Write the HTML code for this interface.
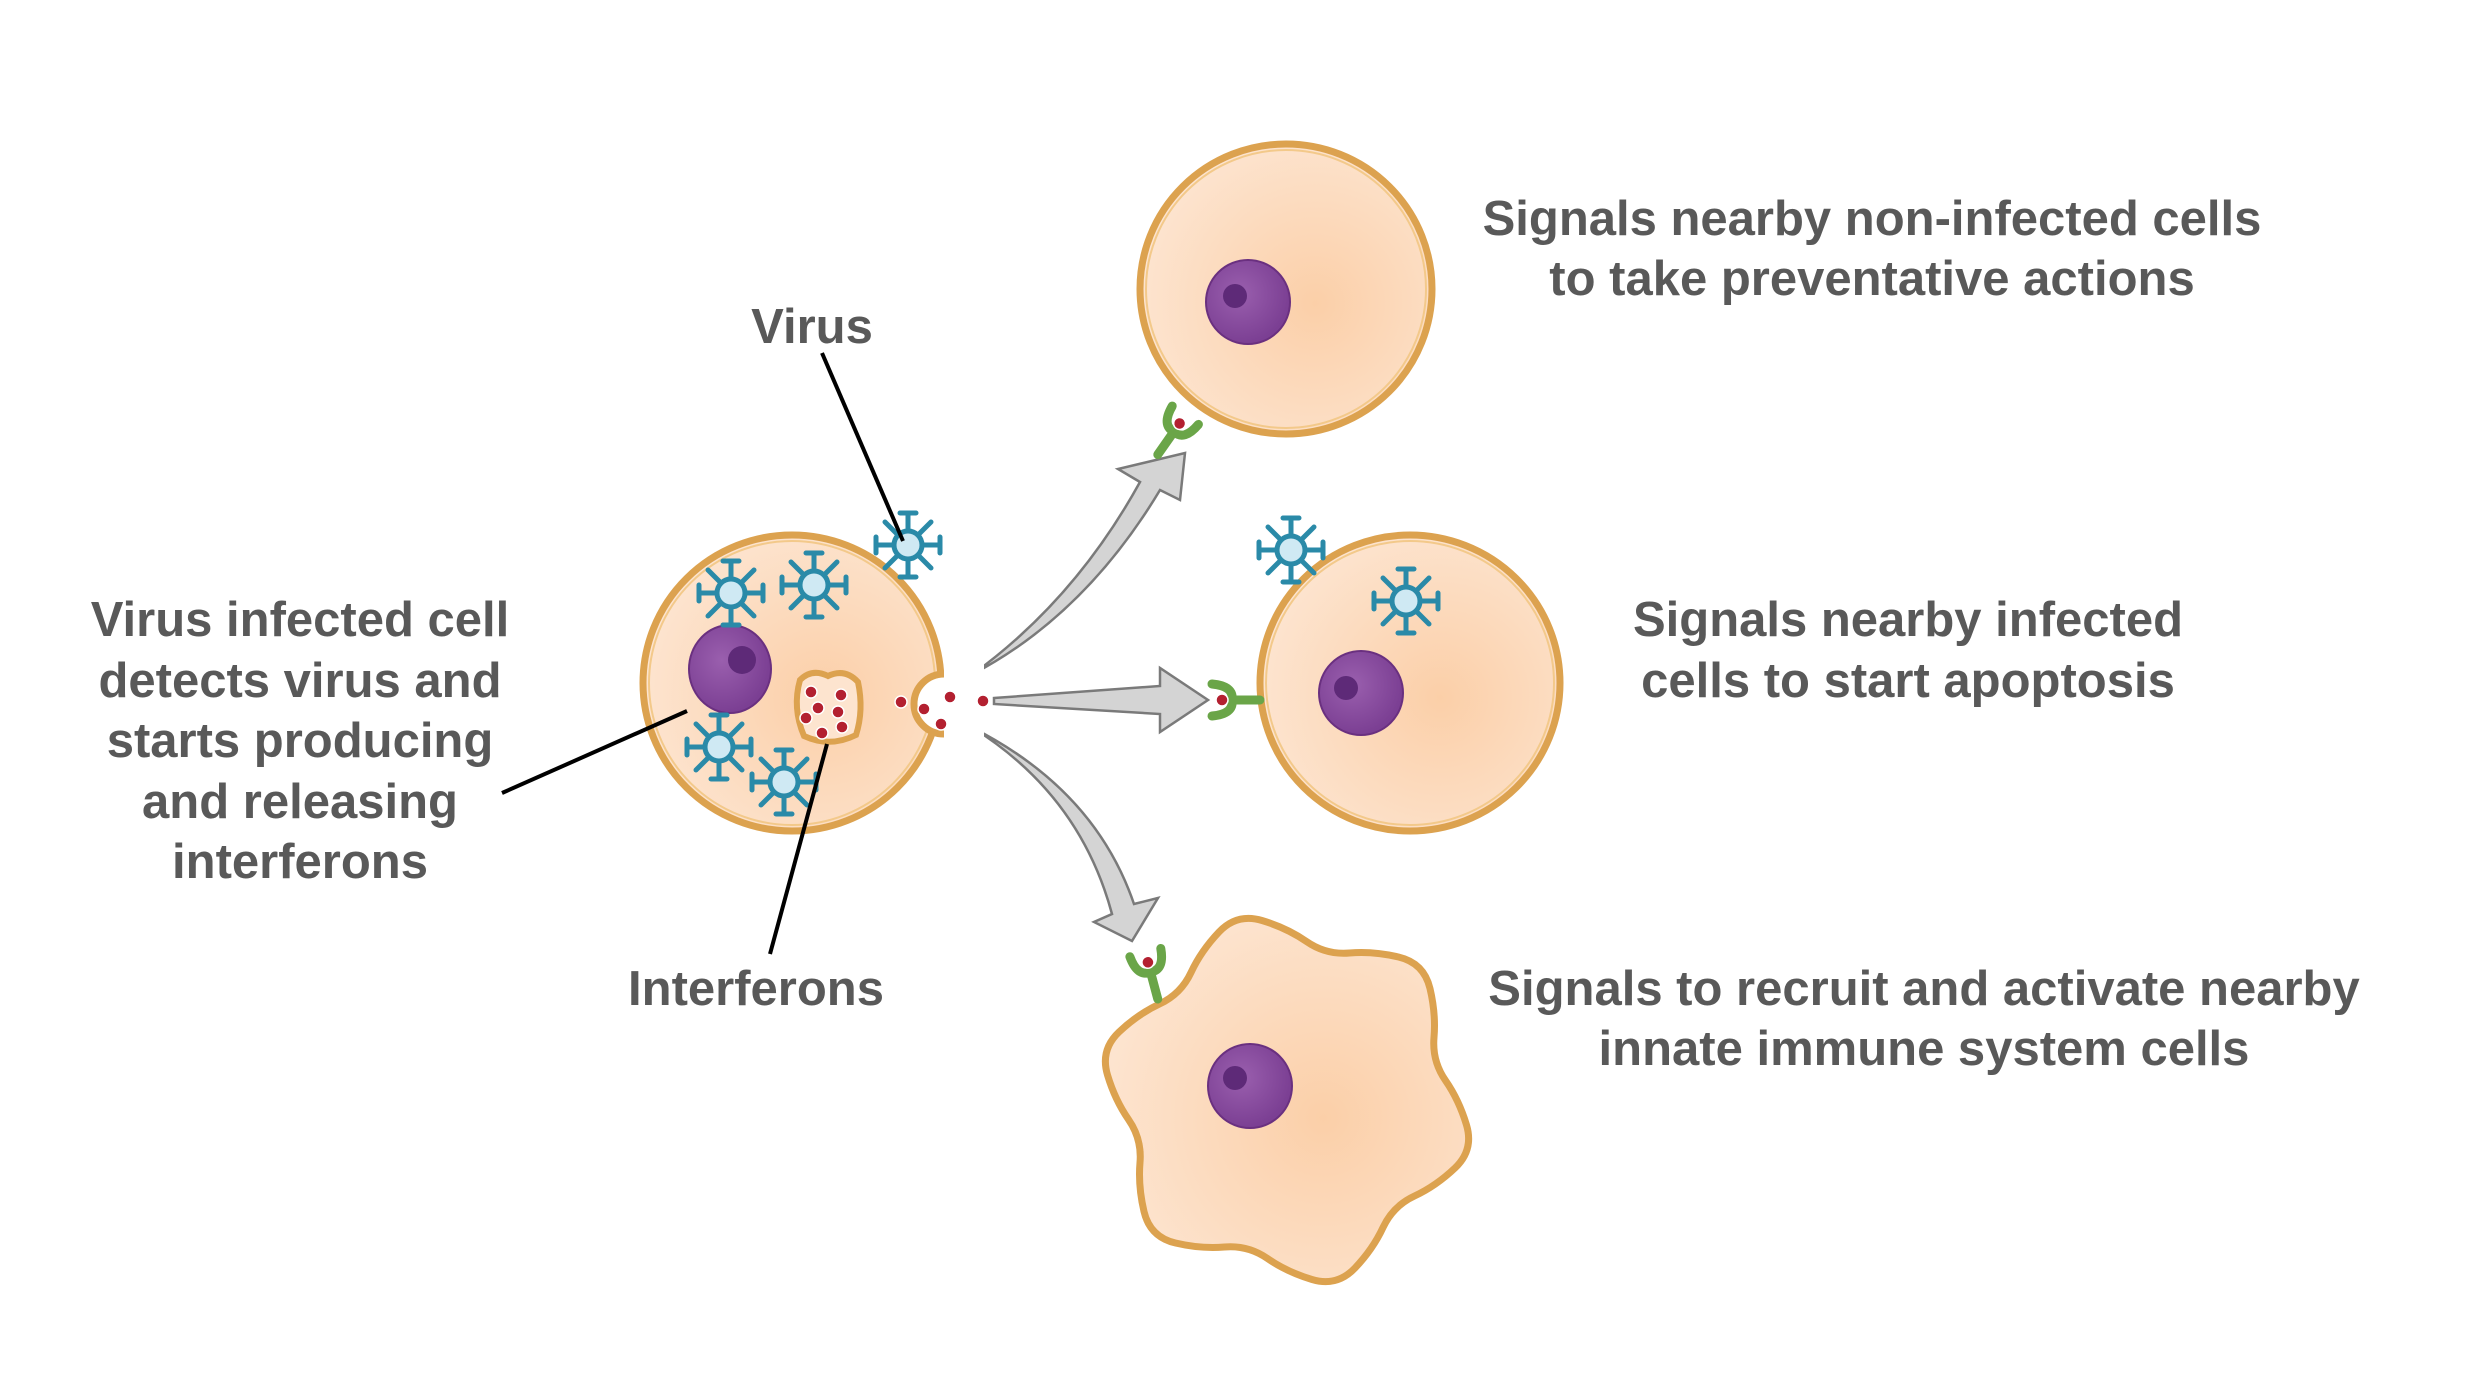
<!DOCTYPE html>
<html><head><meta charset="utf-8"><style>
html,body{margin:0;padding:0;background:#fff;}
svg{display:block;}
text{font-family:"Liberation Sans",Arial,sans-serif;font-weight:bold;fill:#595959;font-size:49px;text-anchor:middle;}
</style></head><body>
<svg width="2481" height="1381" viewBox="0 0 2481 1381" xmlns="http://www.w3.org/2000/svg">
<defs>
<radialGradient id="cf" cx="0.6" cy="0.55" r="0.6">
<stop offset="0" stop-color="#fbcfa8"/><stop offset="1" stop-color="#fde4cf"/>
</radialGradient>
<radialGradient id="nf" cx="0.4" cy="0.4" r="0.6">
<stop offset="0" stop-color="#9a5fae"/><stop offset="1" stop-color="#7b3f93"/>
</radialGradient>
<g id="vir">
<g stroke="#2a8aa8" stroke-width="5" stroke-linecap="round">
<line x1="0" y1="-32" x2="0" y2="32"/><line x1="-32" y1="0" x2="32" y2="0"/>
<line x1="-23" y1="-23" x2="23" y2="23"/><line x1="-23" y1="23" x2="23" y2="-23"/>
<line x1="-8" y1="-32" x2="8" y2="-32"/><line x1="-8" y1="32" x2="8" y2="32"/>
<line x1="-32" y1="-8" x2="-32" y2="8"/><line x1="32" y1="-8" x2="32" y2="8"/>
</g>
<circle r="14" fill="#cfe9f3" stroke="#2a8aa8" stroke-width="5"/>
</g>
<g id="rec">
<path d="M0,30 L0,0 M-16,-18 Q-14,4 0,2 Q14,4 16,-18" fill="none" stroke="#6aa548" stroke-width="9" stroke-linecap="round"/>
<circle cx="0" cy="-8" r="6" fill="#b32030" stroke="#fff" stroke-width="1.5"/>
</g>
</defs>

<!-- arrows -->
<g fill="#d4d4d4" stroke="#7a7a7a" stroke-width="2.5" stroke-linejoin="miter">
<path d="M973,674 Q1075,600 1140,482 L1118,469 L1185,453 L1180,500 L1160,490 Q1085,615 973,674 Z"/>
<path d="M994,698 L1160,686 L1160,668 L1208,700 L1160,732 L1160,714 L994,704 Z"/>
<path d="M973,728 Q1080,795 1112,914 L1094,922 L1132,941 L1158,898 L1134,904 Q1095,790 973,728 Z"/>
</g>

<!-- infected cell -->
<ellipse cx="792" cy="683" rx="149" ry="148" fill="url(#cf)" stroke="#dca24f" stroke-width="7"/>
<ellipse cx="792" cy="683" rx="143" ry="142" fill="none" stroke="#f3c98a" stroke-width="2"/>
<circle cx="944" cy="704" r="30" fill="#fff" stroke="#dca24f" stroke-width="7"/>
<rect x="944" y="660" width="40" height="90" fill="#fff"/>
<ellipse cx="730" cy="669" rx="41" ry="44" fill="url(#nf)" stroke="#6a3080" stroke-width="2"/>
<circle cx="742" cy="660" r="14" fill="#5e2a78"/>
<path d="M800,680 Q812,668 828,676 Q845,668 858,682 Q864,710 856,735 Q830,748 804,736 Q792,708 800,680 Z" fill="#fde4cf" stroke="#dca24f" stroke-width="6"/>
<g fill="#b32030" stroke="#fff" stroke-width="1.5">
<circle cx="811" cy="692" r="6"/><circle cx="841" cy="695" r="6"/><circle cx="818" cy="708" r="6"/><circle cx="838" cy="712" r="6"/>
<circle cx="806" cy="718" r="6"/><circle cx="842" cy="727" r="6"/><circle cx="822" cy="733" r="6"/>
<circle cx="901" cy="702" r="6"/><circle cx="924" cy="709" r="6"/><circle cx="950" cy="697" r="6"/><circle cx="983" cy="701" r="6"/><circle cx="941" cy="724" r="6"/>
</g>
<use href="#vir" x="731" y="593"/><use href="#vir" x="814" y="585"/><use href="#vir" x="719" y="747"/><use href="#vir" x="784" y="782"/><use href="#vir" x="908" y="545"/>

<!-- top cell -->
<ellipse cx="1286" cy="289" rx="146" ry="145" fill="url(#cf)" stroke="#dca24f" stroke-width="7"/>
<ellipse cx="1286" cy="289" rx="140" ry="139" fill="none" stroke="#f3c98a" stroke-width="2"/>
<circle cx="1248" cy="302" r="42" fill="url(#nf)" stroke="#6a3080" stroke-width="2"/>
<circle cx="1235" cy="296" r="12" fill="#5e2a78"/>
<use href="#rec" transform="translate(1175,430) rotate(35)"/>

<!-- middle cell -->
<ellipse cx="1410" cy="683" rx="150" ry="148" fill="url(#cf)" stroke="#dca24f" stroke-width="7"/>
<ellipse cx="1410" cy="683" rx="144" ry="142" fill="none" stroke="#f3c98a" stroke-width="2"/>
<circle cx="1361" cy="693" r="42" fill="url(#nf)" stroke="#6a3080" stroke-width="2"/>
<circle cx="1346" cy="688" r="12" fill="#5e2a78"/>
<use href="#vir" x="1291" y="550"/><use href="#vir" x="1406" y="601"/>
<use href="#rec" transform="translate(1230,700) rotate(-90)"/>

<!-- bottom wavy cell -->
<path d="M1445.5,1080.5 Q1459,1100 1466.5,1125 Q1474,1150 1455,1168 Q1436,1186 1414.5,1196 Q1393,1206 1383,1227.5 Q1373,1249 1355,1268 Q1337,1287 1312,1279.5 Q1287,1272 1267.5,1258.5 Q1248,1245 1224.5,1247 Q1201,1249 1175.5,1243 Q1150,1237 1144,1211.5 Q1138,1186 1140,1162.5 Q1142,1139 1128.5,1119.5 Q1115,1100 1107.5,1075 Q1100,1050 1119,1032 Q1138,1014 1159.5,1004 Q1181,994 1191,972.5 Q1201,951 1219,932 Q1237,913 1262,920.5 Q1287,928 1306.5,941.5 Q1326,955 1349.5,953 Q1373,951 1398.5,957 Q1424,963 1430,988.5 Q1436,1014 1434,1037.5 Q1432,1061 1445.5,1080.5 Z" fill="url(#cf)" stroke="#dca24f" stroke-width="7" stroke-linejoin="round"/>
<circle cx="1250" cy="1086" r="42" fill="url(#nf)" stroke="#6a3080" stroke-width="2"/>
<circle cx="1235" cy="1078" r="12" fill="#5e2a78"/>
<use href="#rec" transform="translate(1150,970) rotate(-15)"/>

<!-- leader lines -->
<g stroke="#000" stroke-width="4">
<line x1="822" y1="353" x2="903" y2="541"/>
<line x1="502" y1="793" x2="687" y2="711"/>
<line x1="770" y1="954" x2="827" y2="744"/>
</g>

<!-- labels -->
<text x="812" y="343">Virus</text>
<text x="756" y="1005">Interferons</text>
<text x="300" y="636">Virus infected cell</text>
<text x="300" y="697">detects virus and</text>
<text x="300" y="757">starts producing</text>
<text x="300" y="818">and releasing</text>
<text x="300" y="878">interferons</text>
<text x="1872" y="235">Signals nearby non-infected cells</text>
<text x="1872" y="295">to take preventative actions</text>
<text x="1908" y="636">Signals nearby infected</text>
<text x="1908" y="697">cells to start apoptosis</text>
<text x="1924" y="1005">Signals to recruit and activate nearby</text>
<text x="1924" y="1065">innate immune system cells</text>
</svg>
</body></html>
